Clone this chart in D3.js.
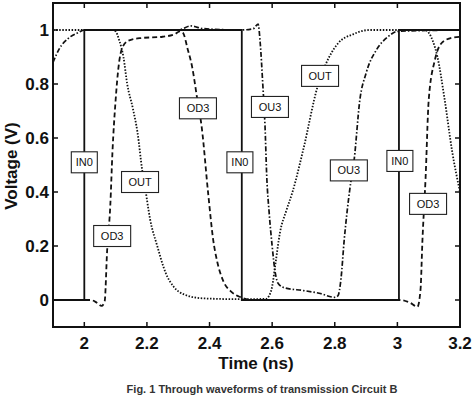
<!DOCTYPE html>
<html>
<head>
<meta charset="utf-8">
<script src="https://cdn.jsdelivr.net/npm/d3@7"></script>
<style>
  html, body { margin: 0; padding: 0; background: #fff; }
  svg { display: block; }
  .tick-label { font-family: "Liberation Sans", Arial, sans-serif; font-size: 17px; font-weight: bold; fill: #111; }
  .axis-title { font-family: "Liberation Sans", Arial, sans-serif; font-size: 17px; font-weight: bold; fill: #111; }
  .box-label { font-family: "Liberation Sans", Arial, sans-serif; font-size: 11px; fill: #111; }
</style>
</head>
<body>
<svg id="chart" width="474" height="395"></svg>
<script>
// time (ns) / voltage (V) samples
var in0T = [1.9, 2.0, 2.0, 2.503, 2.503, 3.005, 3.005, 3.2];
var in0V = [0, 0, 1, 1, 0, 0, 1, 1];

var outT = [1.9, 2.09, 2.1, 2.112, 2.125, 2.137, 2.155, 2.17, 2.185, 2.195, 2.21, 2.233, 2.26, 2.285, 2.32, 2.38, 2.5, 2.58,
            2.59, 2.6, 2.61, 2.625, 2.645, 2.665, 2.7, 2.745, 2.77, 2.81, 2.86, 2.91, 3.09, 3.1, 3.113, 3.128, 3.15, 3.175, 3.2];
var outV = [1, 1, 0.995, 0.96, 0.9, 0.8, 0.71, 0.62, 0.48, 0.41, 0.3, 0.2, 0.1, 0.05, 0.02, 0.006, 0.003, 0.004,
            0.015, 0.05, 0.13, 0.25, 0.33, 0.4, 0.56, 0.79, 0.87, 0.95, 0.985, 1, 1, 0.99, 0.96, 0.9, 0.75, 0.55, 0.4];

var od3T = [1.9, 2.02, 2.04, 2.055, 2.065, 2.073, 2.083, 2.09, 2.1, 2.109, 2.12, 2.14, 2.18, 2.25, 2.29, 2.305, 2.315,
            2.33, 2.345, 2.36, 2.375, 2.396, 2.412, 2.425, 2.444, 2.47, 2.5, 2.53, 3.01, 3.04, 3.064, 3.074, 3.08, 3.09,
            3.1, 3.12, 3.14, 3.17, 3.2];
var od3V = [0, 0, -0.01, -0.022, -0.005, 0.185, 0.35, 0.55, 0.74, 0.86, 0.93, 0.96, 0.97, 0.975, 0.985, 0.995, 0.99,
            0.93, 0.86, 0.75, 0.64, 0.39, 0.22, 0.14, 0.07, 0.03, 0.01, 0, 0, -0.01, -0.025, 0.04, 0.22, 0.45,
            0.74, 0.89, 0.95, 0.97, 0.975];

var ou3T = [1.9, 1.92, 1.95, 1.98, 2.0, 2.3, 2.34, 2.38, 2.5, 2.54, 2.555, 2.562, 2.57, 2.577, 2.583, 2.59, 2.6, 2.61,
            2.62, 2.64, 2.7, 2.75, 2.8, 2.81, 2.82, 2.83, 2.848, 2.862, 2.88, 2.9, 2.935, 2.97, 3.0, 3.2];
var ou3V = [0.88, 0.93, 0.97, 0.99, 1, 1, 1.015, 1.005, 1, 1.005, 1.022, 0.95, 0.8, 0.65, 0.45, 0.33, 0.2, 0.1,
            0.06, 0.045, 0.035, 0.025, 0.01, 0.015, 0.08, 0.22, 0.41, 0.52, 0.74, 0.84, 0.93, 0.975, 0.995, 1];

// in-plot box labels
var labelText = ["IN0", "OUT", "OD3", "OD3", "IN0", "OU3", "OUT", "OU3", "IN0", "OD3"];
var labelT = [2.0, 2.178, 2.363, 2.089, 2.497, 2.593, 2.753, 2.845, 3.008, 3.098];
var labelV = [0.51, 0.437, 0.71, 0.237, 0.51, 0.715, 0.83, 0.48, 0.515, 0.356];

var xTicks = [2, 2.2, 2.4, 2.6, 2.8, 3, 3.2];
var yTicks = [0, 0.2, 0.4, 0.6, 0.8, 1];

var svg = d3.select("#chart");
var plotL = 53, plotR = 460, plotT = 3, plotB = 327;

var x = d3.scaleLinear().domain([1.9, 3.2]).range([plotL, plotR]);
var y = d3.scaleLinear().domain([-0.1, 1.1]).range([plotB, plotT]);

function pairs(ts, vs) { return ts.map(function(t, i) { return [t, vs[i]]; }); }

svg.append("clipPath").attr("id", "plotclip")
  .append("rect").attr("x", plotL).attr("y", plotT).attr("width", plotR - plotL).attr("height", plotB - plotT);

var g = svg.append("g").attr("clip-path", "url(#plotclip)");

var smooth = d3.line().x(function(d) { return x(d[0]); }).y(function(d) { return y(d[1]); }).curve(d3.curveMonotoneX);
var straight = d3.line().x(function(d) { return x(d[0]); }).y(function(d) { return y(d[1]); });

g.append("path").attr("d", straight(pairs(in0T, in0V)))
  .attr("fill", "none").attr("stroke", "#111").attr("stroke-width", 1.8);
g.append("path").attr("d", smooth(pairs(outT, outV)))
  .attr("fill", "none").attr("stroke", "#111").attr("stroke-width", 1.8).attr("stroke-dasharray", "1.5,1.6");
g.append("path").attr("d", smooth(pairs(od3T, od3V)))
  .attr("fill", "none").attr("stroke", "#111").attr("stroke-width", 1.8).attr("stroke-dasharray", "5,3");
g.append("path").attr("d", smooth(pairs(ou3T, ou3V)))
  .attr("fill", "none").attr("stroke", "#111").attr("stroke-width", 1.7).attr("stroke-dasharray", "5,2,1.5,2");

// box labels
var labels = svg.append("g");
labelText.forEach(function(txt, i) {
  var w = txt === "IN0" ? 26 : 37, h = 21;
  var cx = x(labelT[i]), cy = y(labelV[i]);
  labels.append("rect").attr("x", cx - w / 2).attr("y", cy - h / 2).attr("width", w).attr("height", h)
    .attr("fill", "#fff").attr("stroke", "#222").attr("stroke-width", 1.1);
  labels.append("text").attr("class", "box-label").attr("x", cx).attr("y", cy + 4)
    .attr("text-anchor", "middle").text(txt);
});

// frame + inward ticks on all four sides
svg.append("rect").attr("x", plotL).attr("y", plotT).attr("width", plotR - plotL).attr("height", plotB - plotT)
  .attr("fill", "none").attr("stroke", "#111").attr("stroke-width", 2);

var tl = 5;
xTicks.forEach(function(t) {
  svg.append("line").attr("x1", x(t)).attr("x2", x(t)).attr("y1", plotB).attr("y2", plotB - tl).attr("stroke", "#111").attr("stroke-width", 1.5);
  svg.append("line").attr("x1", x(t)).attr("x2", x(t)).attr("y1", plotT).attr("y2", plotT + tl).attr("stroke", "#111").attr("stroke-width", 1.5);
  svg.append("text").attr("class", "tick-label").attr("x", x(t)).attr("y", plotB + 22)
    .attr("text-anchor", "middle").text(d3.format("~g")(t));
});
yTicks.forEach(function(v) {
  svg.append("line").attr("x1", plotL).attr("x2", plotL + tl).attr("y1", y(v)).attr("y2", y(v)).attr("stroke", "#111").attr("stroke-width", 1.5);
  svg.append("line").attr("x1", plotR).attr("x2", plotR - tl).attr("y1", y(v)).attr("y2", y(v)).attr("stroke", "#111").attr("stroke-width", 1.5);
  svg.append("text").attr("class", "tick-label").attr("x", plotL - 4).attr("y", y(v) + 6)
    .attr("text-anchor", "end").text(d3.format("~g")(v));
});

svg.append("text").attr("class", "axis-title").attr("x", 256).attr("y", 369)
  .attr("text-anchor", "middle").text("Time (ns)");
svg.append("text").attr("class", "axis-title")
  .attr("transform", "translate(17," + 166 + ") rotate(-90)")
  .attr("text-anchor", "middle").text("Voltage (V)");

// caption (sits on the bottom edge, as in the scan)
svg.append("text").attr("x", 262).attr("y", 393).attr("text-anchor", "middle")
  .style("font-family", "Liberation Sans, Arial, sans-serif").style("font-size", "11px").style("font-weight", "bold")
  .attr("fill", "#333").text("Fig. 1 Through waveforms of transmission Circuit B");
</script>
</body>
</html>
